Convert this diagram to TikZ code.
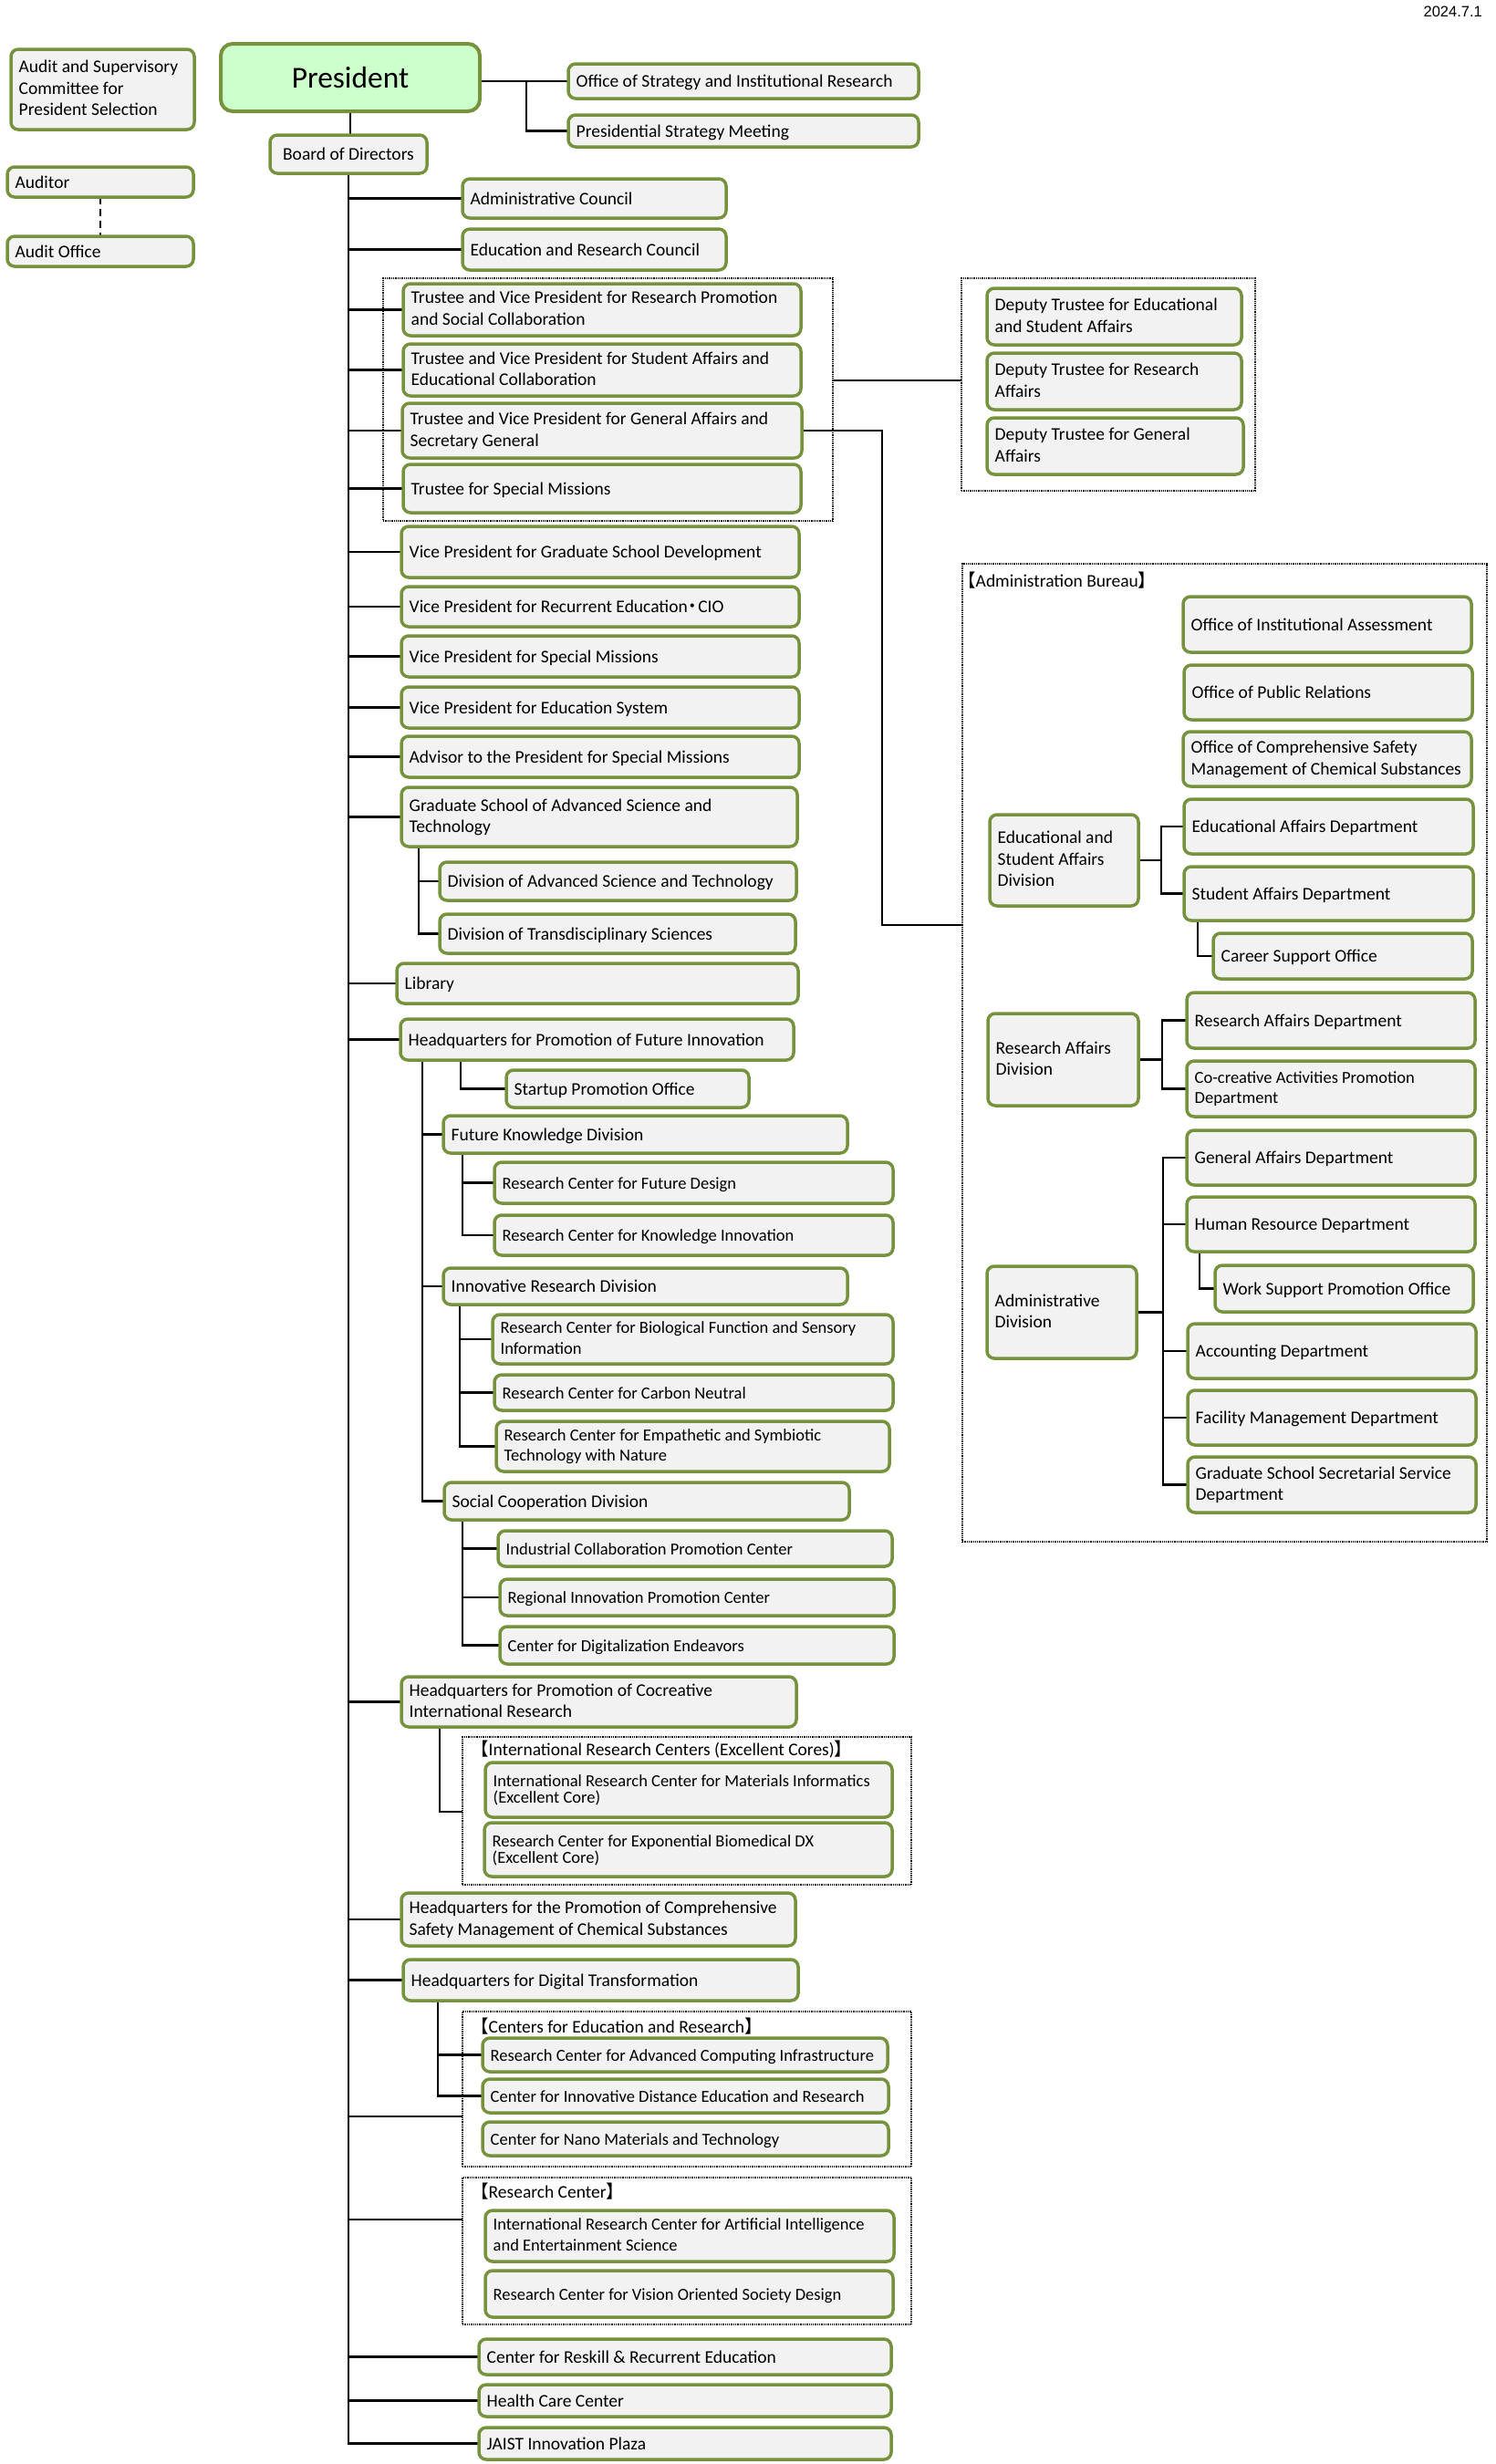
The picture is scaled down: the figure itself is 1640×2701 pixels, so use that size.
\documentclass[tikz,border=0pt]{standalone}
\usepackage{fontspec}
\setmainfont{Carlito}
\newfontfamily\cjk{Noto Sans CJK JP}
\newfontfamily\datefont{Liberation Sans}
\usetikzlibrary{calc,backgrounds}
\definecolor{boxgreen}{HTML}{76923C}
\definecolor{boxfill}{HTML}{F2F2F2}
\definecolor{presfill}{HTML}{CCFFCC}
\tikzset{
  box/.style={draw=boxgreen,fill=boxfill,line width=3.5pt,rounded corners=8pt,anchor=north west,inner sep=0pt,outer sep=0pt},
  txt/.style={anchor=west,align=left,inner sep=0pt,yshift=-2pt,font=\fontsize{19.5}{23.5}\selectfont,execute at begin node=\strut,execute at end node=\strut},
  smalltxt/.style={font=\fontsize{18.5}{22.5}\selectfont},
  tighttxt/.style={font=\fontsize{18.5}{18}\selectfont},
  conn/.style={line width=2.8pt,black},
  dotbox/.style={draw=black,densely dotted,line width=1.3pt,anchor=north west,inner sep=0pt,outer sep=0pt},
  ttl/.style={anchor=west,inner sep=0pt,font=\fontsize{19.5}{23.5}\selectfont},
}
\newcommand\orgbox[7][]{%
  \pgfmathsetmacro\bw{#5-#3}%
  \pgfmathsetmacro\bh{#6-#4}%
  \node[box,minimum width=\bw pt,minimum height=\bh pt] (#2) at (#3,#4) {};%
  \node[txt,#1] (#2-t) at ([xshift=8.5pt]#2.west) {#7};}
\newcommand\dotframe[5]{%
  \pgfmathsetmacro\bw{#4-#2}%
  \pgfmathsetmacro\bh{#5-#3}%
  \node[dotbox,minimum width=\bw pt,minimum height=\bh pt] (#1) at (#2,#3) {};}
\begin{document}
\begin{tikzpicture}[x=1pt,y=-1pt]
\useasboundingbox (0,0) rectangle (1640,2701);

\node[anchor=east,inner sep=0pt,font=\datefont\fontsize{16.5}{18}\selectfont] (date) at (1625,13) {2024.7.1};

% dotted frames
\dotframe{trbox}{420}{305}{913}{571}
\dotframe{depbox}{1054}{305}{1376}{538}
\dotframe{bureau}{1055}{618}{1630}{1690}
\dotframe{ircbox}{507}{1904}{999}{2066}
\dotframe{cerbox}{507}{2205}{999}{2375}
\dotframe{rcbox}{507}{2387}{999}{2548}

\node[ttl] (bureau-t) at (1050,636) {{\cjk 【}Administration Bureau{\cjk 】}};
\node[ttl] (ircbox-t) at (516,1918) {{\cjk 【}International Research Centers (Excellent Cores){\cjk 】}};
\node[ttl] (cerbox-t) at (516,2221) {{\cjk 【}Centers for Education and Research{\cjk 】}};
\node[ttl] (rcbox-t) at (516,2402) {{\cjk 【}Research Center{\cjk 】}};

% top
\orgbox{audit}{12}{54}{213}{142}{Audit and Supervisory\\Committee for\\President Selection}
\node[box,draw=boxgreen,fill=presfill,line width=4pt,rounded corners=13pt,minimum width=284pt,minimum height=74pt,font=\fontsize{33.4}{40}\selectfont] (pres) at (242,48) {President};
\orgbox{osir}{623}{70}{1007}{108}{Office of Strategy and Institutional Research}
\orgbox{psm}{623}{126}{1007}{161}{Presidential Strategy Meeting}
\node[box,minimum width=172pt,minimum height=42pt,font=\fontsize{19.5}{23.5}\selectfont] (board) at (296,148) {Board of Directors};
\orgbox{auditor}{8}{183}{212}{216}{Auditor}
\orgbox{auditoff}{8}{259}{212}{292}{Audit Office}
\orgbox{adc}{507}{196}{796}{239}{Administrative Council}
\orgbox{erc}{507}{251}{796}{296}{Education and Research Council}

% trustees
\orgbox{t1}{442}{311}{878}{368}{Trustee and Vice President for Research Promotion\\and Social Collaboration}
\orgbox{t2}{442}{377}{878}{434}{Trustee and Vice President for Student Affairs and\\Educational Collaboration}
\orgbox{t3}{441}{442}{879}{502}{Trustee and Vice President for General Affairs and\\Secretary General}
\orgbox{t4}{442}{509}{878}{562}{Trustee for Special Missions}

% deputies
\orgbox{d1}{1082}{316}{1361}{378}{Deputy Trustee for Educational\\and Student Affairs}
\orgbox{d2}{1082}{387}{1361}{449}{Deputy Trustee for Research\\Affairs}
\orgbox{d3}{1082}{458}{1363}{520}{Deputy Trustee for General\\Affairs}

% administration bureau
\orgbox{oia}{1297}{654}{1613}{715}{Office of Institutional Assessment}
\orgbox{opr}{1298}{729}{1614}{789}{Office of Public Relations}
\orgbox{ocs}{1297}{802}{1613}{862}{Office of Comprehensive Safety\\Management of Chemical Substances}
\orgbox{ead}{1298}{876}{1615}{936}{Educational Affairs Department}
\orgbox{sad}{1298}{950}{1615}{1009}{Student Affairs Department}
\orgbox{cso}{1330}{1023}{1614}{1073}{Career Support Office}
\orgbox{esad}{1085}{893}{1248}{993}{Educational and\\Student Affairs\\Division}
\orgbox{rad}{1301}{1088}{1617}{1149}{Research Affairs Department}
\orgbox[smalltxt]{ccap}{1301}{1163}{1617}{1224}{Co-creative Activities Promotion\\Department}
\orgbox{rdiv}{1083}{1111}{1248}{1212}{Research Affairs\\Division}
\orgbox{gad}{1301}{1239}{1617}{1299}{General Affairs Department}
\orgbox{hrd}{1301}{1312}{1617}{1372}{Human Resource Department}
\orgbox{wspo}{1332}{1387}{1615}{1438}{Work Support Promotion Office}
\orgbox{acc}{1302}{1451}{1618}{1511}{Accounting Department}
\orgbox{fmd}{1302}{1524}{1618}{1584}{Facility Management Department}
\orgbox{gsss}{1302}{1597}{1618}{1658}{Graduate School Secretarial Service\\Department}
\orgbox{adiv}{1082}{1388}{1246}{1489}{Administrative\\Division}

% left column
\orgbox{vpg}{440}{577}{876}{633}{Vice President for Graduate School Development}
\orgbox{vpr}{440}{643}{876}{687}{Vice President for Recurrent Education\kern-4pt{\cjk ・}\kern-4pt CIO}
\orgbox{vps}{440}{697}{876}{742}{Vice President for Special Missions}
\orgbox{vpe}{440}{753}{876}{798}{Vice President for Education System}
\orgbox{adv}{440}{807}{876}{852}{Advisor to the President for Special Missions}
\orgbox{gsast}{440}{863}{874}{928}{Graduate School of Advanced Science and\\Technology}
\orgbox{dast}{482}{945}{873}{987}{Division of Advanced Science and Technology}
\orgbox{dts}{482}{1002}{872}{1045}{Division of Transdisciplinary Sciences}
\orgbox{lib}{435}{1056}{875}{1100}{Library}
\orgbox{hqfi}{439}{1117}{870}{1162}{Headquarters for Promotion of Future Innovation}
\orgbox{spo}{555}{1173}{821}{1214}{Startup Promotion Office}
\orgbox{fkd}{486}{1223}{929}{1264}{Future Knowledge Division}
\orgbox[smalltxt]{rcfd}{542}{1274}{979}{1319}{Research Center for Future Design}
\orgbox[smalltxt]{rcki}{542}{1332}{979}{1376}{Research Center for Knowledge Innovation}
\orgbox{ird}{486}{1390}{929}{1430}{Innovative Research Division}
\orgbox[smalltxt]{rcbf}{540}{1441}{979}{1495}{Research Center for Biological Function and Sensory\\Information}
\orgbox[smalltxt]{rccn}{542}{1507}{979}{1546}{Research Center for Carbon Neutral}
\orgbox[smalltxt]{rces}{544}{1558}{975}{1613}{Research Center for Empathetic and Symbiotic\\Technology with Nature}
\orgbox{scd}{487}{1625}{931}{1666}{Social Cooperation Division}
\orgbox[smalltxt]{icpc}{546}{1678}{978}{1717}{Industrial Collaboration Promotion Center}
\orgbox[smalltxt]{ripc}{548}{1731}{980}{1771}{Regional Innovation Promotion Center}
\orgbox[smalltxt]{cde}{548}{1783}{980}{1824}{Center for Digitalization Endeavors}
\orgbox{hqci}{440}{1838}{873}{1893}{Headquarters for Promotion of Cocreative\\International Research}
\orgbox[tighttxt]{ircmi}{532}{1932}{978}{1992}{International Research Center for Materials Informatics\\(Excellent Core)}
\orgbox[tighttxt]{rceb}{531}{1998}{978}{2057}{Research Center for Exponential Biomedical DX\\(Excellent Core)}
\orgbox{hqcs}{440}{2075}{872}{2133}{Headquarters for the Promotion of Comprehensive\\Safety Management of Chemical Substances}
\orgbox{hqdt}{442}{2148}{875}{2193}{Headquarters for Digital Transformation}
\orgbox[smalltxt]{rcaci}{529}{2234}{973}{2271}{Research Center for Advanced Computing Infrastructure}
\orgbox[smalltxt]{cide}{529}{2279}{974}{2316}{Center for Innovative Distance Education and Research}
\orgbox[smalltxt]{cnmt}{529}{2326}{974}{2363}{Center for Nano Materials and Technology}
\orgbox[smalltxt]{ircai}{532}{2423}{980}{2479}{International Research Center for Artificial Intelligence\\and Entertainment Science}
\orgbox[smalltxt]{rcvo}{532}{2489}{979}{2540}{Research Center for Vision Oriented Society Design}
\orgbox{crre}{525}{2564}{977}{2603}{Center for Reskill \& Recurrent Education}
\orgbox{hcc}{525}{2614}{977}{2649}{Health Care Center}
\orgbox{jip}{525}{2661}{977}{2696}{JAIST Innovation Plaza}

% branch coordinates
\coordinate (px) at (577,0);
\coordinate (gx) at (459,0);
\coordinate (fx) at (463,0);
\coordinate (sx) at (505,0);
\coordinate (kx) at (507,0);
\coordinate (ix) at (504,0);
\coordinate (cx) at (507,0);
\coordinate (hx) at (482,0);
\coordinate (dx) at (480,0);
\coordinate (ex) at (1273,0);
\coordinate (cax) at (1313,0);
\coordinate (rx) at (1274,0);
\coordinate (ax) at (1275,0);
\coordinate (wx) at (1315,0);
\coordinate (trout) at (913,417);
\coordinate (depin) at (1054,417);
\coordinate (burin) at (1055,1014);
\coordinate (ircin) at (507,1986);
\coordinate (cerin) at (507,2320);
\coordinate (rcin) at (507,2433);

\begin{pgfonlayer}{background}
% president
\draw[conn] (osir.west -| pres.east) -- (osir.west);
\draw[conn] (osir.west -| px) |- (psm.west);
\draw[line width=2pt] (pres.south) -- (pres.south |- board.north);
\draw[line width=2.5pt,dash pattern=on 8pt off 5pt] (auditor.south) -- (auditoff.north);
% trunk
\draw[conn] (board.south) -- (board.south |- jip.west) -- (jip.west);
\foreach \n in {adc,erc,t1,t2,t3,t4,vpg,vpr,vps,vpe,adv,gsast,lib,hqfi,hqci,hqcs,hqdt,crre,hcc}
  \draw[conn] (board.south |- \n.west) -- (\n.west);
\draw[conn] (board.south |- cerin) -- (cerin);
\draw[conn] (board.south |- rcin) -- (rcin);
% trustees to deputies and bureau
\draw[conn] (trout) -- (depin);
\draw[conn] (t3.east) -- ++(88,0) |- (burin);
% graduate school
\draw[conn] (gsast.south -| gx) |- (dts.west);
\draw[conn] (gx |- dast.west) -- (dast.west);
% future innovation
\draw[conn] (hqfi.south -| fx) |- (scd.west);
\draw[conn] (fx |- fkd.west) -- (fkd.west);
\draw[conn] (fx |- ird.west) -- (ird.west);
\draw[conn] (hqfi.south -| sx) |- (spo.west);
\draw[conn] (fkd.south -| kx) |- (rcki.west);
\draw[conn] (kx |- rcfd.west) -- (rcfd.west);
\draw[conn] (ird.south -| ix) |- (rces.west);
\draw[conn] (ix |- rcbf.west) -- (rcbf.west);
\draw[conn] (ix |- rccn.west) -- (rccn.west);
\draw[conn] (scd.south -| cx) |- (cde.west);
\draw[conn] (cx |- icpc.west) -- (icpc.west);
\draw[conn] (cx |- ripc.west) -- (ripc.west);
% cocreative
\draw[conn] (hqci.south -| hx) |- (ircin);
% digital transformation
\draw[conn] (hqdt.south -| dx) |- (cide.west);
\draw[conn] (dx |- rcaci.west) -- (rcaci.west);
% bureau
\draw[conn] (esad.east) -- (esad.east -| ex);
\draw[conn] (ead.west) -| (ex |- sad.west) -- (sad.west);
\draw[conn] (sad.south -| cax) |- (cso.west);
\draw[conn] (rdiv.east) -- (rdiv.east -| rx);
\draw[conn] (rad.west) -| (rx |- ccap.west) -- (ccap.west);
\draw[conn] (adiv.east) -- (adiv.east -| ax);
\draw[conn] (gad.west) -| (ax |- gsss.west) -- (gsss.west);
\draw[conn] (ax |- hrd.west) -- (hrd.west);
\draw[conn] (ax |- acc.west) -- (acc.west);
\draw[conn] (ax |- fmd.west) -- (fmd.west);
\draw[conn] (hrd.south -| wx) |- (wspo.west);
\end{pgfonlayer}
\end{tikzpicture}
\end{document}
